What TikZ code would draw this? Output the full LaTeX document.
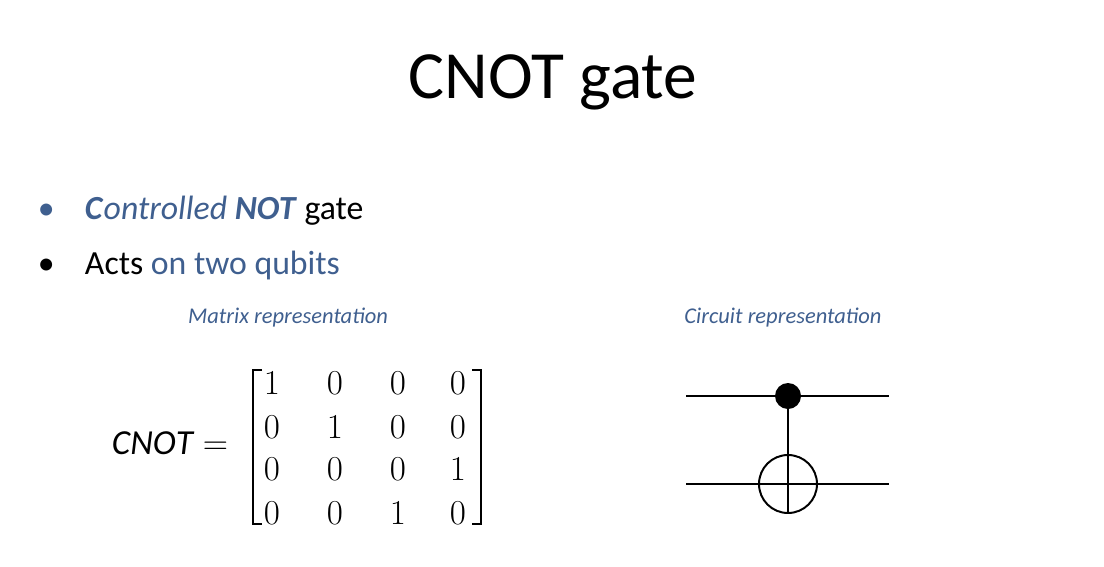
\documentclass[tikz,border=0pt]{standalone}
\usepackage{fontspec}
\setmainfont{Carlito}
\begin{document}
\begin{tikzpicture}[x=0.025cm,y=-0.025cm,
  ttl/.style={font=\fontsize{48}{56}\selectfont},
  bul/.style={font=\fontsize{24}{28}\selectfont,anchor=base west},
  lab/.style={font=\fontsize{16}{19}\selectfont\itshape,text=blu},
  ent/.style={font=\fontsize{25}{30}\selectfont},
  wire/.style={line width=1.4pt}]
\definecolor{blu}{HTML}{3F5F8F}
\useasboundingbox (0,0) rectangle (1104,566);
\node[ttl] (title) at (553,82) {CNOT gate};
\node[bul,text=blu] (b1) at (33,219) {•};
\node[bul] (t1) at (80,219) {\textcolor{blu}{\textbf{\textit{C}}\textit{ontrolled} \textbf{\textit{NOT}}} gate};
\node[bul] (b2) at (33,274) {•};
\node[bul] (t2) at (80,274) {Acts \textcolor{blu}{on two qubits}};
\node[lab] (ml) at (288,318) {Matrix representation};
\node[lab] (cl) at (783,318) {Circuit representation};
\node[ent] (lhs) at (170,443) {$\mathit{CNOT} =$};
\foreach \r/\a/\b/\c/\d [count=\i] in {383/1/0/0/0,427/0/1/0/0,469/0/0/0/1,513/0/0/1/0}{
  \node[ent] (m\i a) at (272,\r) {$\a$};
  \node[ent] (m\i b) at (335,\r) {$\b$};
  \node[ent] (m\i c) at (398,\r) {$\c$};
  \node[ent] (m\i d) at (458,\r) {$\d$};
}
\draw[line width=1.2pt] (262,370) -- (253,370) -- (253,524) -- (262,524);
\draw[line width=1.2pt] (472,370) -- (481,370) -- (481,524) -- (472,524);
\coordinate (w1a) at (686,396); \coordinate (w1b) at (889,396);
\coordinate (w2a) at (686,484); \coordinate (w2b) at (889,484);
\draw[wire] (w1a) -- (w1b);
\draw[wire] (w2a) -- (w2b);
\node[circle,fill=black,minimum size=26*0.025cm,inner sep=0] (ctrl) at (788,396) {};
\node[circle,draw,line width=1.4pt,minimum size=58*0.025cm,inner sep=0] (tgt) at (788,484) {};
\draw[wire] (ctrl.center) -- (tgt.south);
\draw[wire] (tgt.west) -- (tgt.east);
\end{tikzpicture}
\end{document}
